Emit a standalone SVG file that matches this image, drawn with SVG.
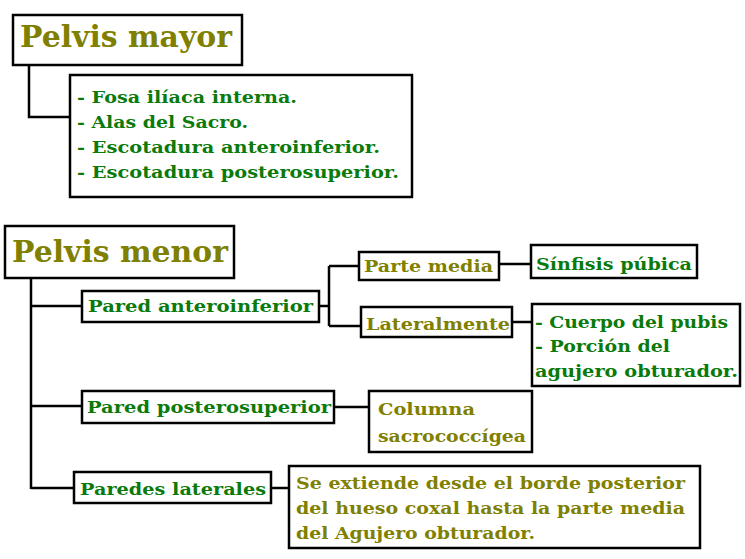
<svg xmlns="http://www.w3.org/2000/svg" width="745" height="559" viewBox="0 0 745 559">
<style>
rect{fill:#fff;stroke:#000;stroke-width:2.5}
text{font-family:"DejaVu Serif","Liberation Serif",serif;font-weight:bold;font-size:17px}
.o{fill:#808000}.g{fill:#0a7a0a}.t{font-size:29px}
#conn path{fill:none;stroke:#000;stroke-width:2.5}
</style>
<rect x="0" y="0" width="745" height="559" style="stroke:none"/>
<g id="conn">
<path d="M29 65V117H70"/>
<path d="M31 278V489M31 306H82M31 406H82M31 488H74"/>
<path d="M319 306H329M329 266V326M329 266H359M329 326H361"/>
<path d="M499 264H531M512 322H532M334 407H369M271 488H289"/>
</g>
<g id="pelvis-mayor"><rect x="13" y="15" width="229" height="50"/><text class="o t" x="20" y="47" textLength="212" lengthAdjust="spacingAndGlyphs">Pelvis mayor</text></g>
<g id="mayor-list"><rect x="70" y="75" width="342" height="122"/>
<text class="g" x="77" y="103" textLength="220" lengthAdjust="spacingAndGlyphs">- Fosa ilíaca interna.</text>
<text class="g" x="77" y="128" textLength="171" lengthAdjust="spacingAndGlyphs">- Alas del Sacro.</text>
<text class="g" x="77" y="153" textLength="303" lengthAdjust="spacingAndGlyphs">- Escotadura anteroinferior.</text>
<text class="g" x="77" y="178" textLength="322" lengthAdjust="spacingAndGlyphs">- Escotadura posterosuperior.</text></g>
<g id="pelvis-menor"><rect x="5" y="226" width="229" height="52"/><text class="o t" x="12" y="262" textLength="216" lengthAdjust="spacingAndGlyphs">Pelvis menor</text></g>
<g id="pared-antero"><rect x="82" y="291" width="237" height="31"/><text class="g" x="88" y="312" textLength="225" lengthAdjust="spacingAndGlyphs">Pared anteroinferior</text></g>
<g id="parte-media"><rect x="359" y="252" width="140" height="28"/><text class="o" x="364" y="272" textLength="129" lengthAdjust="spacingAndGlyphs">Parte media</text></g>
<g id="sinfisis"><rect x="531" y="245" width="166" height="33"/><text class="g" x="536" y="270" textLength="156" lengthAdjust="spacingAndGlyphs">Sínfisis púbica</text></g>
<g id="lateralmente"><rect x="361" y="307" width="151" height="30"/><text class="o" x="366" y="330" textLength="144" lengthAdjust="spacingAndGlyphs">Lateralmente</text></g>
<g id="lat-list"><rect x="532" y="304" width="208" height="82"/>
<text class="g" x="535" y="328" textLength="193" lengthAdjust="spacingAndGlyphs">- Cuerpo del pubis</text>
<text class="g" x="535" y="352" textLength="135" lengthAdjust="spacingAndGlyphs">- Porción del</text>
<text class="g" x="535" y="377" textLength="203" lengthAdjust="spacingAndGlyphs">agujero obturador.</text></g>
<g id="pared-postero"><rect x="82" y="391" width="252" height="32"/><text class="g" x="87" y="413" textLength="244" lengthAdjust="spacingAndGlyphs">Pared posterosuperior</text></g>
<g id="columna"><rect x="369" y="391" width="163" height="61"/>
<text class="o" x="378" y="415" textLength="97" lengthAdjust="spacingAndGlyphs">Columna</text><text class="o" x="378" y="442" textLength="148" lengthAdjust="spacingAndGlyphs">sacrococcígea</text></g>
<g id="paredes-lat"><rect x="74" y="472" width="197" height="31"/><text class="g" x="80" y="495" textLength="186" lengthAdjust="spacingAndGlyphs">Paredes laterales</text></g>
<g id="se-extiende"><rect x="289" y="466" width="411" height="82"/>
<text class="o" x="296" y="489" textLength="389" lengthAdjust="spacingAndGlyphs">Se extiende desde el borde posterior</text>
<text class="o" x="296" y="514" textLength="389" lengthAdjust="spacingAndGlyphs">del hueso coxal hasta la parte media</text>
<text class="o" x="296" y="539" textLength="239" lengthAdjust="spacingAndGlyphs">del Agujero obturador.</text></g>
</svg>
